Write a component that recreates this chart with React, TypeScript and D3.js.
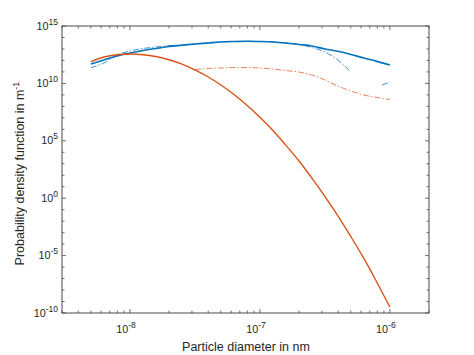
import React from "react";
import * as d3 from "d3";

// Particle diameters (m), log-spaced grid
const diameters = [
  5.0e-9, 6.31e-9, 7.94e-9, 1.0e-8, 1.26e-8, 1.58e-8, 2.0e-8, 2.51e-8, 3.16e-8, 3.98e-8,
  5.01e-8, 6.31e-8, 7.94e-8, 1.0e-7, 1.26e-7, 1.58e-7, 2.0e-7, 2.51e-7, 3.16e-7, 3.98e-7,
  5.01e-7, 6.31e-7, 7.94e-7, 1.0e-6,
];

// log10 of probability density values
const blueSolidLog = [
  11.69, 12.04, 12.39, 12.65, 12.87, 13.04, 13.21, 13.32, 13.43, 13.52,
  13.61, 13.65, 13.67, 13.65, 13.61, 13.52, 13.39, 13.26, 13.0, 12.8,
  12.52, 12.21, 11.92, 11.6,
];
const blueDashLog = [
  11.37, 11.78, 12.47, 12.82, 13.04, 13.17, 13.3, 13.34, 13.43, 13.52,
  13.61, 13.65, 13.67, 13.65, 13.61, 13.52, 13.39, 13.13, 12.74, 12.04,
  10.99, NaN, NaN, NaN,
];
const blueTailD = [8.7e-7, 1.0e-6];
const blueTailLog = [9.86, 10.1];

const orangeSolidLog = [
  11.9, 12.3, 12.5, 12.56, 12.5, 12.34, 12.06, 11.68, 11.18, 10.58,
  9.86, 9.03, 8.1, 7.05, 5.89, 4.62, 3.24, 1.75, 0.16, -1.54,
  -3.35, -5.25, -7.32, -9.48,
];
const orangeDashLog = [
  NaN, NaN, NaN, NaN, NaN, NaN, NaN, NaN, 11.2, 11.3,
  11.34, 11.39, 11.39, 11.34, 11.25, 11.12, 10.99, 10.73, 10.3, 9.77,
  9.34, 8.99, 8.77, 8.6,
];

const xMajorTicks = [1e-8, 1e-7, 1e-6];
const xMajorExp = ["-8", "-7", "-6"];
const yMajorExp = [15, 10, 5, 0, -5, -10];

const W = 474;
const H = 355;
const L = 62, R = 429, T = 26, B = 313;
const axisColor = "#4a4a4a";
const textColor = "#262626";
const blue = "#0072BD";
const orange = "#D95319";
const font = "'Liberation Sans', Arial, Helvetica, sans-serif";

export default function App() {
  const x = d3.scaleLog().domain([3e-9, 2e-6]).range([L, R]);
  const y = d3.scaleLinear().domain([-10, 15]).range([B, T]); // log10 values

  type P = [number, number];
  const mk = (ds: number[], vs: number[]): P[] => ds.map((d, i) => [d, vs[i]]);
  const line = d3
    .line<P>()
    .defined((p) => !isNaN(p[1]))
    .x((p) => x(p[0]))
    .y((p) => y(p[1]))
    .curve(d3.curveMonotoneX);

  const xMinor: number[] = [];
  for (let e = -9; e <= -6; e++) {
    for (let m = 1; m <= 9; m++) {
      const v = m * Math.pow(10, e);
      if (v >= 3e-9 && v <= 2e-6) xMinor.push(v);
    }
  }
  const yMinor: number[] = d3.range(-10, 16, 1);

  const majLen = 4;
  const minLen = 2.5;

  return (
    <svg
      width={W}
      height={H}
      style={{ position: "absolute", left: 0, top: 0, background: "#fff" }}
      fontFamily={font}
    >
      <defs>
        <clipPath id="plotclip">
          <rect x={L} y={T} width={R - L} height={B - T} />
        </clipPath>
      </defs>
      <rect x={0} y={0} width={W} height={H} fill="#fff" />

      {/* minor ticks x */}
      {xMinor.map((v, i) => (
        <g key={"xm" + i} stroke={axisColor} strokeWidth={0.8}>
          <line x1={x(v)} x2={x(v)} y1={B} y2={B - (xMajorTicks.includes(v) ? majLen : minLen)} />
          <line x1={x(v)} x2={x(v)} y1={T} y2={T + (xMajorTicks.includes(v) ? majLen : minLen)} />
        </g>
      ))}
      {/* minor ticks y */}
      {yMinor.map((v, i) => (
        <g key={"ym" + i} stroke={axisColor} strokeWidth={0.8}>
          <line x1={L} x2={L + (v % 5 === 0 ? majLen : minLen)} y1={y(v)} y2={y(v)} />
          <line x1={R} x2={R - (v % 5 === 0 ? majLen : minLen)} y1={y(v)} y2={y(v)} />
        </g>
      ))}

      {/* data */}
      <g clipPath="url(#plotclip)" fill="none">
        <path d={line(mk(diameters, orangeDashLog)) || ""} stroke={orange} strokeWidth={0.9} strokeDasharray="6 2 1.5 2" opacity={0.8} />
        <path d={line(mk(diameters, blueDashLog)) || ""} stroke={blue} strokeWidth={0.9} strokeDasharray="6 2 1.5 2" opacity={0.85} />
        <path d={line(mk(blueTailD, blueTailLog)) || ""} stroke={blue} strokeWidth={0.9} strokeDasharray="6 2 1.5 2" opacity={0.85} />
        <path d={line(mk(diameters, blueSolidLog)) || ""} stroke={blue} strokeWidth={1.6} />
        <path d={line(mk(diameters, orangeSolidLog)) || ""} stroke={orange} strokeWidth={1.4} />
      </g>

      {/* frame */}
      <rect x={L} y={T} width={R - L} height={B - T} fill="none" stroke={axisColor} strokeWidth={1} />

      {/* x tick labels */}
      {xMajorTicks.map((v, i) => (
        <text key={"xl" + i} x={x(v) - 4} y={333} fontSize={10.8} fill={textColor} textAnchor="middle">
          10
          <tspan fontSize={8.5} dy={-5}>{xMajorExp[i]}</tspan>
        </text>
      ))}
      {/* y tick labels */}
      {yMajorExp.map((e, i) => (
        <text key={"yl" + i} x={58} y={y(e) + 3.5} fontSize={10.8} fill={textColor} textAnchor="end">
          10
          <tspan fontSize={8.5} dy={-5}>{String(e)}</tspan>
        </text>
      ))}

      {/* axis titles */}
      <text x={(L + R) / 2 + 0.5} y={351} fontSize={12.5} fill={textColor} textAnchor="middle">
        Particle diameter in nm
      </text>
      <text
        transform={`translate(24, ${(T + B) / 2 + 4}) rotate(-90)`}
        fontSize={12.5}
        fill={textColor}
        textAnchor="middle"
      >
        Probability density function in m
        <tspan fontSize={9} dy={-5}>-1</tspan>
      </text>
    </svg>
  );
}
